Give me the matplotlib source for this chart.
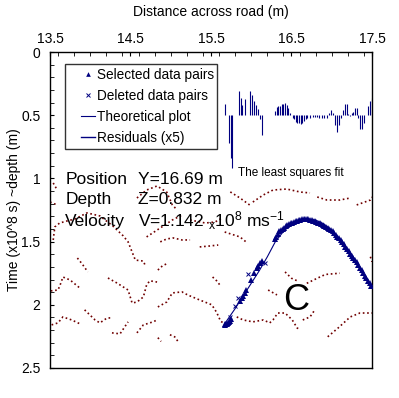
import numpy as np
import matplotlib
matplotlib.use("Agg")
import matplotlib.pyplot as plt
from matplotlib.ticker import MultipleLocator
from matplotlib.lines import Line2D
from matplotlib.legend_handler import HandlerLine2D

plt.rcParams['font.family'] = ['Liberation Sans', 'DejaVu Sans']
plt.rcParams['mathtext.default'] = 'regular'

navy = '#000080'
maroon = '#700000'

# --- selected data pairs (triangles) ---
x_sel = [15.67, 15.68, 15.69, 15.70, 15.71, 15.72, 15.73, 15.75,
         15.86, 15.88, 15.90, 15.92, 15.94, 16.00, 16.04, 16.07, 16.09, 16.11, 16.13,
         16.29, 16.31, 16.33, 16.35, 16.37, 16.39, 16.41, 16.43, 16.45, 16.47,
         16.49, 16.51, 16.53, 16.55, 16.57, 16.59, 16.61, 16.63, 16.65, 16.67,
         16.69, 16.71, 16.73, 16.75, 16.77, 16.79, 16.81, 16.83, 16.85, 16.87,
         16.89, 16.91, 16.93, 16.95, 16.97, 16.99, 17.01, 17.03, 17.05, 17.07,
         17.09, 17.11, 17.13, 17.15, 17.17, 17.19, 17.21, 17.23, 17.25, 17.27,
         17.29, 17.31, 17.33, 17.35, 17.37, 17.39, 17.41, 17.43, 17.45, 17.47, 17.49]
t_sel = [2.15, 2.16, 2.155, 2.15, 2.145, 2.14, 2.13, 2.11,
         1.97, 1.95, 1.93, 1.91, 1.88, 1.80, 1.75, 1.71, 1.69, 1.67, 1.65,
         1.48, 1.46, 1.44, 1.42, 1.41, 1.40, 1.39, 1.38, 1.37, 1.36,
         1.355, 1.35, 1.345, 1.34, 1.335, 1.33, 1.33, 1.325, 1.325, 1.325,
         1.325, 1.325, 1.33, 1.33, 1.335, 1.34, 1.345, 1.35, 1.355, 1.36,
         1.365, 1.375, 1.385, 1.39, 1.40, 1.41, 1.42, 1.435, 1.445, 1.46,
         1.475, 1.49, 1.505, 1.52, 1.54, 1.56, 1.575, 1.595, 1.61, 1.63,
         1.645, 1.665, 1.685, 1.705, 1.725, 1.75, 1.77, 1.79, 1.81, 1.83, 1.85]

# --- deleted data pairs (x marks) ---
x_del = [15.74, 15.80, 15.83, 15.96, 16.17]
t_del = [2.10, 2.01, 1.95, 1.76, 1.67]

# --- theoretical hyperbola ---
x_theo = [15.67, 15.8, 15.9, 16.0, 16.1, 16.2, 16.3, 16.4, 16.5, 16.6, 16.7,
          16.8, 16.9, 17.0, 17.1, 17.2, 17.3, 17.4, 17.5]
t_theo = [2.15, 2.03, 1.93, 1.83, 1.73, 1.62, 1.50, 1.42, 1.36, 1.33, 1.32,
          1.33, 1.36, 1.41, 1.48, 1.56, 1.65, 1.75, 1.86]

# --- residuals (x5), sticks from the 0.5 baseline ---
res_base = 0.5
x_res = [15.674, 15.727, 15.748, 15.765, 15.848, 15.869, 15.889, 15.922, 15.984,
         16.005, 16.034, 16.059, 16.080, 16.109, 16.137, 16.295, 16.316, 16.336,
         16.357, 16.378, 16.398, 16.419, 16.44, 16.46, 16.48, 16.515, 16.53, 16.552,
         16.572, 16.593, 16.614, 16.634, 16.655, 16.676, 16.696, 16.73, 16.763,
         16.792, 16.82, 16.845, 16.875, 16.907, 16.937, 16.97, 16.99, 17.01, 17.04,
         17.07, 17.09, 17.115, 17.143, 17.165, 17.186, 17.205, 17.227, 17.248,
         17.268, 17.289, 17.31, 17.33, 17.35, 17.38, 17.40, 17.454, 17.475, 17.496]
t_res = [0.41, 0.72, 0.84, 0.92, 0.31, 0.36, 0.42, 0.37, 0.31,
         0.34, 0.39, 0.42, 0.45, 0.53, 0.66, 0.47, 0.435, 0.425,
         0.425, 0.41, 0.41, 0.40, 0.42, 0.445, 0.48, 0.525, 0.53, 0.55,
         0.565, 0.565, 0.572, 0.56, 0.545, 0.53, 0.525, 0.52, 0.515,
         0.515, 0.515, 0.52, 0.52, 0.525, 0.52, 0.48, 0.46, 0.48, 0.578,
         0.63, 0.578, 0.52, 0.46, 0.41, 0.41, 0.49, 0.51, 0.48,
         0.475, 0.44, 0.44, 0.52, 0.61, 0.61, 0.565, 0.43, 0.385, 0.36]

# --- other picked events (dotted maroon traces) ---
traces = [
    ([13.54, 13.56, 13.62, 13.71, 13.81, 13.96, 14.12, 14.28, 14.41, 14.47, 14.52, 14.56, 14.66, 14.69],
     [1.487, 1.384, 1.353, 1.337, 1.321, 1.273, 1.297, 1.376, 1.455, 1.502, 1.582, 1.646, 1.654, 1.70]),
    ([13.84, 13.90, 13.97], [1.63, 1.677, 1.74]),
    ([13.51, 13.60, 13.64, 13.66, 13.75, 13.87], [1.89, 1.883, 1.82, 1.78, 1.804, 1.867]),
    ([14.22, 14.33, 14.47, 14.52, 14.58, 14.66, 14.70, 14.74, 14.83],
     [1.788, 1.827, 1.883, 1.986, 1.978, 1.938, 1.843, 1.81, 1.82]),
    ([14.84, 14.90, 14.97], [1.725, 1.69, 1.67]),
    ([14.84, 14.95, 15.02, 15.14, 15.21, 15.36, 15.51, 15.57, 15.62, 15.67],
     [2.017, 1.978, 1.906, 1.898, 1.922, 1.962, 2.0, 2.06, 2.13, 2.15]),
    ([15.52, 15.57, 15.61], [1.78, 1.81, 1.843]),
    ([13.52, 13.60, 13.66, 13.77, 13.87], [2.159, 2.143, 2.096, 2.12, 2.15]),
    ([13.93, 14.06, 14.12, 14.21, 14.28], [2.04, 2.12, 2.143, 2.104, 2.104]),
    ([14.27, 14.37, 14.47], [2.222, 2.23, 2.135]),
    ([14.58, 14.66, 14.78, 14.83], [2.222, 2.159, 2.135, 2.12]),
    ([14.84, 14.88], [2.26, 2.29]),
    ([14.99, 15.05, 15.09], [2.237, 2.254, 2.29]),
    ([14.87, 14.95, 15.03, 15.14, 15.24], [1.502, 1.479, 1.471, 1.487, 1.487]),
    ([15.36, 15.48, 15.59], [1.542, 1.535, 1.527]),
    ([14.58, 14.70, 14.83, 14.95, 15.02, 15.08], [1.155, 1.092, 1.06, 1.108, 1.21, 1.25]),
    ([14.70, 14.87, 15.02, 15.14], [1.463, 1.392, 1.329, 1.29]),
    ([15.24, 15.43, 15.55, 15.64], [1.329, 1.353, 1.345, 1.313]),
    ([15.74, 15.86, 15.98], [1.107, 1.155, 1.21]),
    ([16.02, 16.15, 16.27, 16.44, 16.61, 16.73], [1.187, 1.131, 1.092, 1.084, 1.108, 1.115]),
    ([16.82, 16.94, 17.10, 17.23], [1.147, 1.171, 1.171, 1.155]),
    ([17.31, 17.48, 17.50], [1.21, 1.171, 1.147]),
    ([15.67, 15.86, 15.95], [1.424, 1.463, 1.51]),
    ([17.48, 17.50], [1.62, 1.66]),
    ([16.42, 16.50, 16.57], [1.74, 1.79, 1.81]),
    ([16.69, 16.82, 16.92, 17.10], [1.83, 1.79, 1.76, 1.75]),
    ([16.21, 16.32], [1.883, 1.922]),
    ([15.82, 15.90, 16.02, 16.15, 16.23, 16.27, 16.33, 16.42, 16.51, 16.57, 16.61],
     [2.096, 2.12, 2.135, 2.12, 2.143, 2.12, 2.065, 2.065, 2.12, 2.183, 2.199]),
    ([16.64, 16.73, 16.79], [2.12, 2.096, 2.04]),
    ([16.95, 17.08, 17.23, 17.35, 17.50], [2.253, 2.183, 2.096, 2.065, 2.065]),
    ([13.54, 13.59], [1.036, 1.092]),
    ([13.50, 13.59], [1.187, 1.21]),
]


fig = plt.figure(figsize=(3.99, 3.98), dpi=100)
ax = fig.add_axes([0.1253, 0.0754, 0.807, 0.7939])

for xs, ts in traces:
    ax.plot(xs, ts, color=maroon, lw=1.2, linestyle=(0, (1, 1.6)), zorder=1)

ax.plot(x_sel, t_sel, linestyle='none', marker='^', markersize=4.2, color=navy,
        markeredgewidth=0, label='Selected data pairs', zorder=3)
ax.plot(x_del, t_del, linestyle='none', marker='x', markersize=3.5, color=navy,
        markeredgewidth=0.7, label='Deleted data pairs', zorder=3)
ax.plot(x_theo, t_theo, color=navy, lw=0.8, label='Theoretical plot', zorder=2)
ax.vlines(x_res, res_base, t_res, color=navy, lw=0.8, zorder=2)
ax.plot([], [], color=navy, lw=1.0, label='Residuals (x5)')

ax.set_xlim(13.5, 17.5)
ax.set_ylim(2.5, 0)
ax.xaxis.tick_top()
ax.xaxis.set_label_position('top')
ax.xaxis.set_minor_locator(MultipleLocator(0.2))
ax.yaxis.set_minor_locator(MultipleLocator(0.1))
ax.set_xticks(np.arange(13.5, 17.6, 1.0))
ax.set_xticklabels(['13.5', '14.5', '15.5', '16.5', '17.5'])
ax.set_yticks([0, 0.5, 1.0, 1.5, 2.0, 2.5])
ax.set_yticklabels(['0', '0.5', '1', '1.5', '2', '2.5'])
ax.tick_params(axis='both', which='both', direction='in', labelsize=10, color='black')
ax.tick_params(axis='x', which='both', length=3, pad=4, top=True, bottom=False)
ax.tick_params(axis='y', which='both', length=3, pad=7, left=True, right=False)
for s in ax.spines.values():
    s.set_linewidth(1.0)

ax.set_xlabel('Distance across road (m)', fontsize=10, labelpad=12)
ax.set_ylabel('Time (x10^8 s) ~depth (m)', fontsize=10, labelpad=0)

leg = ax.legend(loc='upper left', bbox_to_anchor=(0.047, 0.712, 0.472, 0.25),
                mode='expand', borderaxespad=0, fontsize=9.8, frameon=True,
                fancybox=False, edgecolor='black', handlelength=1.9,
                handletextpad=0.15, labelspacing=0.5, borderpad=0.3,
                markerscale=0.8,
                handler_map={Line2D: HandlerLine2D(xpad=0.9)})
leg.get_frame().set_linewidth(1.0)

ax.text(0.047, 0.595, 'Position', transform=ax.transAxes, fontsize=12.5, va='center')
ax.text(0.273, 0.595, 'Y=16.69 m', transform=ax.transAxes, fontsize=12.5, va='center')
ax.text(0.047, 0.532, 'Depth', transform=ax.transAxes, fontsize=12.5, va='center')
ax.text(0.273, 0.532, 'Z=0.832 m', transform=ax.transAxes, fontsize=12.5, va='center')
ax.text(0.047, 0.465, 'Velocity', transform=ax.transAxes, fontsize=12.5, va='center')
ax.text(0.273, 0.465, r'V=1.142 $_{x}$10$^{8}$ ms$^{-1}$', transform=ax.transAxes,
        fontsize=12.5, va='center')
ax.text(0.584, 0.617, 'The least squares fit', transform=ax.transAxes, fontsize=8.5,
        va='center')
ax.text(0.766, 0.215, 'C', transform=ax.transAxes, fontsize=26, va='center',
        ha='center')

fig.savefig('out.png', dpi=100)
